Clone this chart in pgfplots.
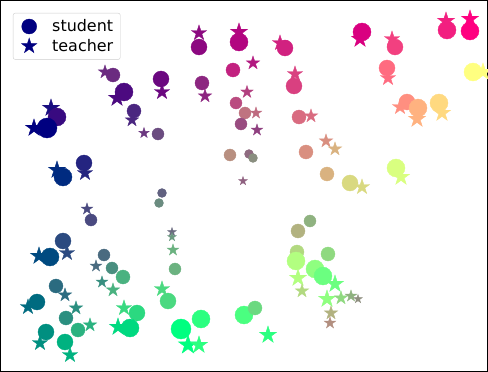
\documentclass[border=0pt]{standalone}
\usepackage{pgfplots}
\usepackage{pgfplotstable}
\pgfplotsset{compat=1.18}
\usepackage{fontspec}
\setmainfont{DejaVu Sans}
\definecolor{navy}{rgb}{0,0,0.5}
\pgfdeclareplotmark{fstar}{%
  \pgfpathmoveto{\pgfpointpolar{90}{\pgfplotmarksize}}%
  \pgfpathlineto{\pgfpointpolar{126}{0.382\pgfplotmarksize}}%
  \pgfpathlineto{\pgfpointpolar{162}{\pgfplotmarksize}}%
  \pgfpathlineto{\pgfpointpolar{198}{0.382\pgfplotmarksize}}%
  \pgfpathlineto{\pgfpointpolar{234}{\pgfplotmarksize}}%
  \pgfpathlineto{\pgfpointpolar{270}{0.382\pgfplotmarksize}}%
  \pgfpathlineto{\pgfpointpolar{306}{\pgfplotmarksize}}%
  \pgfpathlineto{\pgfpointpolar{342}{0.382\pgfplotmarksize}}%
  \pgfpathlineto{\pgfpointpolar{18}{\pgfplotmarksize}}%
  \pgfpathlineto{\pgfpointpolar{54}{0.382\pgfplotmarksize}}%
  \pgfpathclose
  \pgfusepathqfillstroke
}
\pgfplotstableread{
x y s R G
57 117 9 .22 .04
47 128 10 0 0
113 75 7 .42 .17
124 92 9 .30 .04
63 177 9 0 .17
84 163 8 .14 .14
199 47 8 .55 .03
239 42 9 .70 .02
161 79 8 .42 .03
202 83 7 .55 .15
134 111 7 .29 .15
158 134 6 .42 .30
233 70 7 .76 .13
236 103 6 .73 .30
245 113 6 .75 .45
241 124 6 .60 .30
230 155 6 .72 .56
249 154 4.5 .56 .42
253 158 4.5 .54 .56
162 193 4.5 .38 .38
159 203 4.5 .42 .55
285 48 8 .82 .13
294 86 8 .85 .25
299 117 7 .85 .42
306 152 7 .85 .56
327 174 7 .85 .70
350 183 8 .85 .85
362 32 9 .85 0
395 47 8 .95 .25
447 30 9 .95 .12
470 31 9 1 0
473 72 9 1 1
387 68 8 1 .42
407 102 8 1 .56
418 108 9 1 .70
439 103 9 1 .85
396 168 9 .85 1
91 220 6 .29 .29
63 241 8 .17 .29
50 257 9 0 .29
56 286 7 .17 .42
37 302 8 0 .42
104 255 6 .29 .42
112 268 6 .29 .56
123 277 7 .29 .70
66 318 7 .17 .56
46 332 8 0 .56
78 330 7 .17 .70
65 342 8 0 .70
175 269 6 .42 .70
168 301 8 .29 .85
137 313 8 .17 .85
130 328 9 0 .85
181 329 10 0 1
201 319 9 .17 1
244 315 9 .29 1
255 308 7 .42 .85
298 231 7 .70 .70
310 221 6 .56 .70
297 252 7 .70 .85
296 261 9 .70 1
315 269 9 .56 1
323 276 9 .42 1
328 254 7 .56 .85
}\student
\pgfplotstableread{
x y s R G
51 108 9 .10 .05
34 128 9 0 0
105 72 7 .42 .17
117 98 9 .30 .04
57 170 9 0 .17
85 173 8 .14 .14
199 33 8 .55 .03
239 32 9 .70 .02
162 92 8 .42 .03
205 96 7 .55 .15
132 120 7 .29 .15
144 133 5.5 .42 .22
253 63 7 .70 .10
247 92 6.5 .70 .25
256 113 6 .75 .42
257 130 6 .56 .25
243 181 4.5 .56 .38
280 43 8 .82 .13
295 74 8 .85 .25
311 116 7 .85 .42
326 141 7 .85 .56
335 149 7 .85 .70
362 187 8 .85 .85
360 39 9 .85 0
392 39 8 .95 .25
446 21 9 .95 .12
470 19 9 1 0
483 72 9 1 1
388 78 8 1 .42
400 107 8 1 .56
417 119 9 1 .70
442 113 9 1 .85
401 177 9 .85 1
87 209 6 .29 .29
67 253 8 .17 .29
39 256 9 0 .29
65 295 7 .17 .42
28 307 8 0 .42
96 266 6 .29 .42
102 282 6 .22 .56
113 290 7 .29 .70
76 308 7 .17 .56
40 343 8 0 .56
90 325 7 .17 .70
70 355 8 0 .70
124 308 8 .22 .85
118 327 9 0 .85
172 232 4.5 .42 .42
172 237 4.5 .42 .60
173 250 6 .42 .70
162 289 8 .29 .85
188 345 10 0 1
199 345 9 .17 1
268 335 9 .17 1
298 278 9 .70 1
302 291 7 .70 .85
335 284 9 .42 1
327 299 9 .56 1
341 298 7 .56 .85
351 296 6 .56 .70
358 299 4.5 .56 .56
331 313 7 .70 .70
330 323 6 .70 .56
}\teacher
\begin{document}
\begin{tikzpicture}
\begin{axis}[
  scale only axis, width=487bp, height=371bp,
  xmin=0.5, xmax=487.5, ymin=0.5, ymax=371.5, y dir=reverse,
  xtick=\empty, ytick=\empty,
  axis line style={line width=1bp},
  legend cell align=left,
  legend image code/.code={%
    \path[draw=none,fill=none] (-12bp,-7.5bp) rectangle (8bp,7.5bp);
    \draw[#1] plot coordinates {(0bp,0bp)};},
  legend style={at={(12.5/487,1-12.5/371)}, anchor=north west,
    draw=black!20, rounded corners=2bp, fill=white,
    font=\fontsize{16}{19}\selectfont, inner xsep=4bp, inner ysep=3.5bp,
    nodes={inner sep=3bp},
    /tikz/every odd column/.append style={column sep=12bp},
    row sep=0bp},
]
\addlegendimage{only marks, mark=*, mark size=7.5, draw=navy, fill=navy}
\addlegendentry{student}
\addlegendimage{only marks, mark=fstar, mark size=8, draw=navy, fill=navy}
\addlegendentry{teacher}
\addplot[forget plot, only marks, mark=fstar, scatter,
  visualization depends on={\thisrow{s}\as\myS},
  visualization depends on={\thisrow{R}\as\myR},
  visualization depends on={\thisrow{G}\as\myG},
  scatter/@pre marker code/.code={\definecolor{mc}{rgb}{\myR,\myG,0.5}\scope[mark size=\myS, fill=mc, draw=mc]},
  scatter/@post marker code/.code={\endscope},
] table[x=x,y=y] {\teacher};
\addplot[forget plot, only marks, mark=*, scatter,
  visualization depends on={\thisrow{s}\as\myS},
  visualization depends on={\thisrow{R}\as\myR},
  visualization depends on={\thisrow{G}\as\myG},
  scatter/@pre marker code/.code={\definecolor{mc}{rgb}{\myR,\myG,0.5}\scope[mark size=\myS, fill=mc, draw=mc]},
  scatter/@post marker code/.code={\endscope},
] table[x=x,y=y] {\student};
\end{axis}
\pgfresetboundingbox
\path[use as bounding box] ([shift={(-0.5bp,-0.5bp)}]current axis.south west) rectangle ([shift={(0.5bp,0.5bp)}]current axis.north east);
\end{tikzpicture}
\end{document}
